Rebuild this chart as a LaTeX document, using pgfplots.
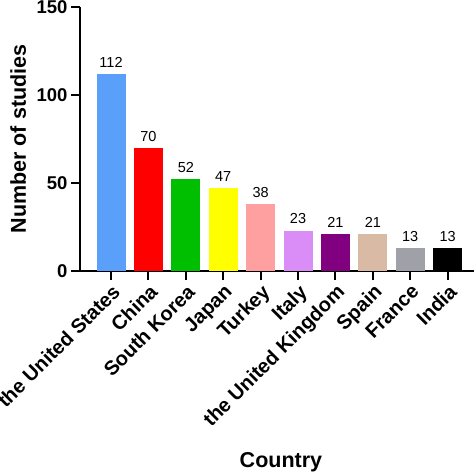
\documentclass[border=0pt]{standalone}
\usepackage{pgfplots}
\pgfplotsset{compat=1.18}
\usepackage{fontspec}
\setmainfont{Liberation Sans}
\definecolor{cUS}{RGB}{90,160,250}
\definecolor{cCN}{RGB}{255,0,0}
\definecolor{cKR}{RGB}{0,190,0}
\definecolor{cJP}{RGB}{255,255,0}
\definecolor{cTR}{RGB}{255,160,160}
\definecolor{cIT}{RGB}{218,140,247}
\definecolor{cUK}{RGB}{128,0,128}
\definecolor{cES}{RGB}{217,187,165}
\definecolor{cFR}{RGB}{160,160,168}
\definecolor{cIN}{RGB}{0,0,0}
\begin{document}
\begin{tikzpicture}
\useasboundingbox (-80pt,-203pt) rectangle (394pt,271pt);
\begin{axis}[
  at={(0,0)}, anchor=south west,
  scale only axis, width=394pt, height=264pt,
  xmin=-0.83, xmax=9.705, ymin=0, ymax=150,
  axis lines=left, axis line style={line width=2pt, -},
  every tick/.style={line width=2pt, black},
  tick align=outside, major tick length=9pt,
  ytick={0,50,100,150},
  xtick={0,1,2,3,4,5,6,7,8,9},
  xticklabels={the United States,China,South Korea,Japan,Turkey,Italy,the United Kingdom,Spain,France,India},
  /pgf/number format/assume math mode=true,
  yticklabel style={font=\fontsize{18.5}{20}\selectfont\bfseries},
  xticklabel style={font=\fontsize{20}{22}\selectfont\bfseries, rotate=45, anchor=north east, inner sep=2pt},
  ylabel={Number of studies},
  xlabel={Country},
  label style={font=\fontsize{21.5}{24}\selectfont\bfseries},
  ylabel style={at={(axis description cs:-0.157,0.5)}, anchor=center},
  xlabel style={at={(axis description cs:0.51,-0.723)}, anchor=center},
  ybar, bar width=29pt, bar shift=0pt,
  nodes near coords,
  every node near coord/.append style={font=\fontsize{14.5}{16}\selectfont, black, yshift=3pt},
  clip=false,
]
\addplot[fill=cUS, draw=none] coordinates {(0,112)};
\addplot[fill=cCN, draw=none] coordinates {(1,70)};
\addplot[fill=cKR, draw=none] coordinates {(2,52)};
\addplot[fill=cJP, draw=none] coordinates {(3,47)};
\addplot[fill=cTR, draw=none] coordinates {(4,38)};
\addplot[fill=cIT, draw=none] coordinates {(5,23)};
\addplot[fill=cUK, draw=none] coordinates {(6,21)};
\addplot[fill=cES, draw=none] coordinates {(7,21)};
\addplot[fill=cFR, draw=none] coordinates {(8,13)};
\addplot[fill=cIN, draw=none] coordinates {(9,13)};
\end{axis}
\end{tikzpicture}
\end{document}
